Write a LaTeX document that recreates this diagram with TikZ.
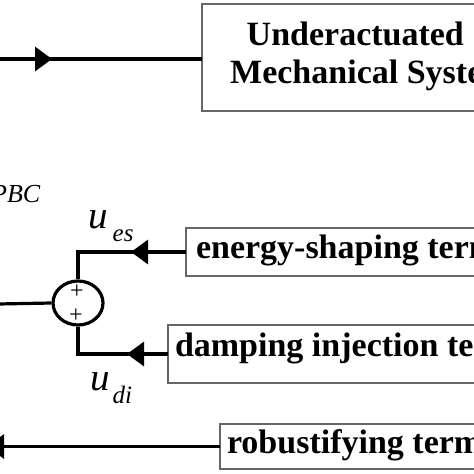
\documentclass[tikz,border=0pt]{standalone}
\usepackage{fontspec}
\setmainfont{Liberation Serif}
\usetikzlibrary{arrows.meta,shapes.geometric,decorations.markings}
\begin{document}
\begin{tikzpicture}[x=1pt,y=-1pt,
  blk/.style={draw=black!60,line width=1.6pt,inner ysep=0pt,outer sep=0pt,anchor=north west,
    font=\fontsize{34}{38}\selectfont\bfseries},
  blktext/.style={anchor=base west,inner sep=0pt,font=\fontsize{34}{38}\selectfont\bfseries},
  conn/.style={line width=3.2pt,line join=miter},
  midarrow/.style={postaction={decorate,decoration={markings,
    mark=at position #1 with {\arrow{Triangle[length=17pt,width=24pt]}}}}},
  ulab/.style={anchor=base west,inner sep=0pt,font=\fontsize{39}{39}\selectfont\itshape},
  slab/.style={anchor=base west,inner sep=0pt,font=\fontsize{25}{25}\selectfont\itshape},
  plus/.style={inner sep=0pt,font=\fontsize{24}{24}\selectfont}]
\path[use as bounding box] (0,0) rectangle (474,474);
\clip (0,0) rectangle (474,474);

% system block
\node[blk,minimum width=320pt,minimum height=107pt] (sys) at (202,4) {};
\node[blktext] (sys1) at (246.5,45.7) {Underactuated};
\node[blktext] (sys2) at (230,83.3) {Mechanical System};

% term blocks
\node[blk,text height=30pt,text depth=18pt,inner xsep=10pt] (en) at (186,228) {energy-shaping term};
\node[blk,text height=31pt,text depth=27pt,inner xsep=7pt] (dmp) at (168,325) {damping injection term};
\node[blk,text height=29pt,text depth=16pt,inner xsep=7pt] (rob) at (220,424) {robustifying term};

% summing junction
\node[ellipse,draw,line width=3.2pt,minimum width=50pt,minimum height=44pt,inner sep=0pt] (sum) at (78,303) {};
\node[plus] (p1) at (77,292) {+};
\node[plus] (p2) at (76,316) {+};

% labels
\node[anchor=base west,inner sep=0pt,font=\fontsize{26}{26}\selectfont\itshape] (pbc) at (-9,202) {PBC};
\node[ulab] (ues) at (88,228) {u};
\node[slab] (ues2) at (112.5,241) {es};
\node[ulab] (udi) at (90,390) {u};
\node[slab] (udi2) at (112.5,403) {di};

% connectors
\coordinate (in) at (-2,59);
\coordinate (out) at (-2,304);
\coordinate (rout) at (-13,446.5);
\draw[conn,midarrow=54pt] (in) -- (in -| sys.west);
\draw[conn,midarrow=55pt] (en.west) -- (en.west -| sum.north) -- (sum.north);
\draw[conn,midarrow=41pt] (dmp.west) -- (dmp.west -| sum.south) -- (sum.south);
\draw[conn] (sum.west) -- (out);
\draw[conn,-{Triangle[length=17pt,width=24pt]}] (rob.west) -- (rout);
\end{tikzpicture}
\end{document}
